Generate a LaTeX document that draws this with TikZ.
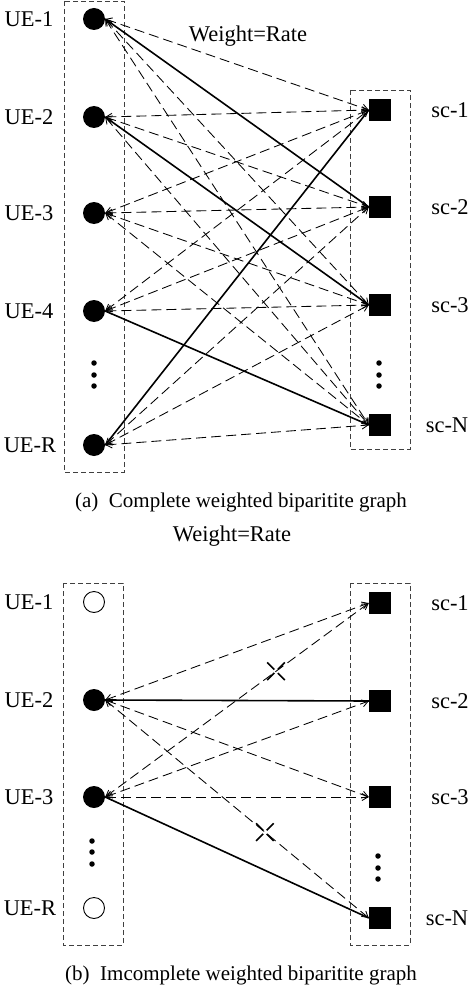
\documentclass[tikz,border=0pt]{standalone}
\usepackage{fontspec}
\setmainfont{Liberation Serif}
\usetikzlibrary{arrows.meta,shapes.misc}
\begin{document}
\begin{tikzpicture}[x=1pt,y=-1pt,
  ue/.style={circle,fill=black,inner sep=0pt,minimum size=22pt},
  ueopen/.style={circle,draw=black,line width=0.9pt,inner sep=0pt,minimum size=21pt},
  sc/.style={rectangle,fill=black,inner sep=0pt,minimum size=22pt},
  lbl/.style={font=\fontsize{22.5}{26}\selectfont,inner sep=0pt},
  captxt/.style={font=\fontsize{21}{25}\selectfont,inner sep=0pt},
  grp/.style={draw=black!75,line width=0.9pt,dash pattern=on 5pt off 3pt},
  dl/.style={line width=0.85pt,dash pattern=on 10pt off 5pt,{Straight Barb[length=6pt,width=7pt]}-{Straight Barb[length=6pt,width=7pt]}},
  sl/.style={line width=1.6pt},
  dotc/.style={circle,fill=black,inner sep=0pt,minimum size=5.5pt},
  xmark/.style={cross out,draw=black,line width=1.6pt,inner sep=0pt,minimum size=16pt}
]
\useasboundingbox (0,0) rectangle (474,987);
\fill[white] (0,0) rectangle (474,987);

% ---------------- (a) ----------------
\draw[grp] (64,1) rectangle (124,472);
\draw[grp] (350,90) rectangle (410,449);

\node[ue] (a1) at (94,19) {};
\node[ue] (a2) at (94,117) {};
\node[ue] (a3) at (94,213) {};
\node[ue] (a4) at (94,311) {};
\node[ue] (aR) at (94,445) {};
\node[dotc] (ad1) at (94,363) {};
\node[dotc] (ad2) at (94,375) {};
\node[dotc] (ad3) at (94,386) {};

\node[sc] (s1) at (380,110) {};
\node[sc] (s2) at (380,207) {};
\node[sc] (s3) at (380,305) {};
\node[sc] (sN) at (380,425) {};
\node[dotc] (sd1) at (379,363) {};
\node[dotc] (sd2) at (379,375) {};
\node[dotc] (sd3) at (379,386) {};

\node[lbl] (la1) at (29,19) {UE-1};
\node[lbl] (la2) at (29,117) {UE-2};
\node[lbl] (la3) at (29,213) {UE-3};
\node[lbl] (la4) at (29,311) {UE-4};
\node[lbl] (laR) at (30,445) {UE-R};
\node[lbl] (ls1) at (450,110) {sc-1};
\node[lbl] (ls2) at (450,207) {sc-2};
\node[lbl] (ls3) at (450,305) {sc-3};
\node[lbl] (lsN) at (447,425) {sc-N};

\node[lbl] (wa) at (248,36) {Weight=Rate};
\node[captxt] (capa) at (241,502) {(a)\ \ Complete weighted biparitite graph};

\foreach \u/\s in {a1/s1,a1/s3,a1/sN,a2/s1,a2/s2,a2/sN,a3/s1,a3/s2,a3/s3,a3/sN,a4/s1,a4/s2,a4/s3,aR/s2,aR/s3,aR/sN}
  \draw[dl] (\u.east) -- (\s.west);
\foreach \u/\s in {a1/s2,a2/s3,a4/sN,aR/s1}
  \draw[sl] (\u.east) -- (\s.west);

% ---------------- (b) ----------------
\node[lbl] (wb) at (232,536) {Weight=Rate};
\draw[grp] (63,583) rectangle (123,945);
\draw[grp] (350,583) rectangle (410,945);

\node[ueopen] (b1) at (94,602) {};
\node[ue] (b2) at (94,700) {};
\node[ue] (b3) at (94,797) {};
\node[dotc] (bd1) at (92,841) {};
\node[dotc] (bd2) at (92,852) {};
\node[dotc] (bd3) at (92,864) {};
\node[ueopen] (bR) at (94,908) {};

\node[sc] (t1) at (380,603) {};
\node[sc] (t2) at (380,701) {};
\node[sc] (t3) at (380,797) {};
\node[sc] (tN) at (380,918) {};
\node[dotc] (td1) at (378,856) {};
\node[dotc] (td2) at (378,868) {};
\node[dotc] (td3) at (378,879) {};

\node[lbl] (lb1) at (29,602) {UE-1};
\node[lbl] (lb2) at (29,700) {UE-2};
\node[lbl] (lb3) at (29,797) {UE-3};
\node[lbl] (lbR) at (30,908) {UE-R};
\node[lbl] (lt1) at (450,603) {sc-1};
\node[lbl] (lt2) at (450,701) {sc-2};
\node[lbl] (lt3) at (450,797) {sc-3};
\node[lbl] (ltN) at (447,918) {sc-N};

\foreach \u/\s in {b2/t1,b2/t3,b3/t2,b3/t3}
  \draw[dl] (\u.east) -- (\s.west);
\draw[dl] (b3.east) -- node[xmark,pos=0.648] (x1) {} (t1.west);
\draw[dl] (b2.east) -- node[xmark,pos=0.606] (x2) {} (tN.west);
\draw[sl] (b2.east) -- (t2.west);
\draw[sl] (b3.east) -- (tN.west);

\node[captxt] (capb) at (241,975) {(b)\ \ Imcomplete weighted biparitite graph};
\end{tikzpicture}
\end{document}
